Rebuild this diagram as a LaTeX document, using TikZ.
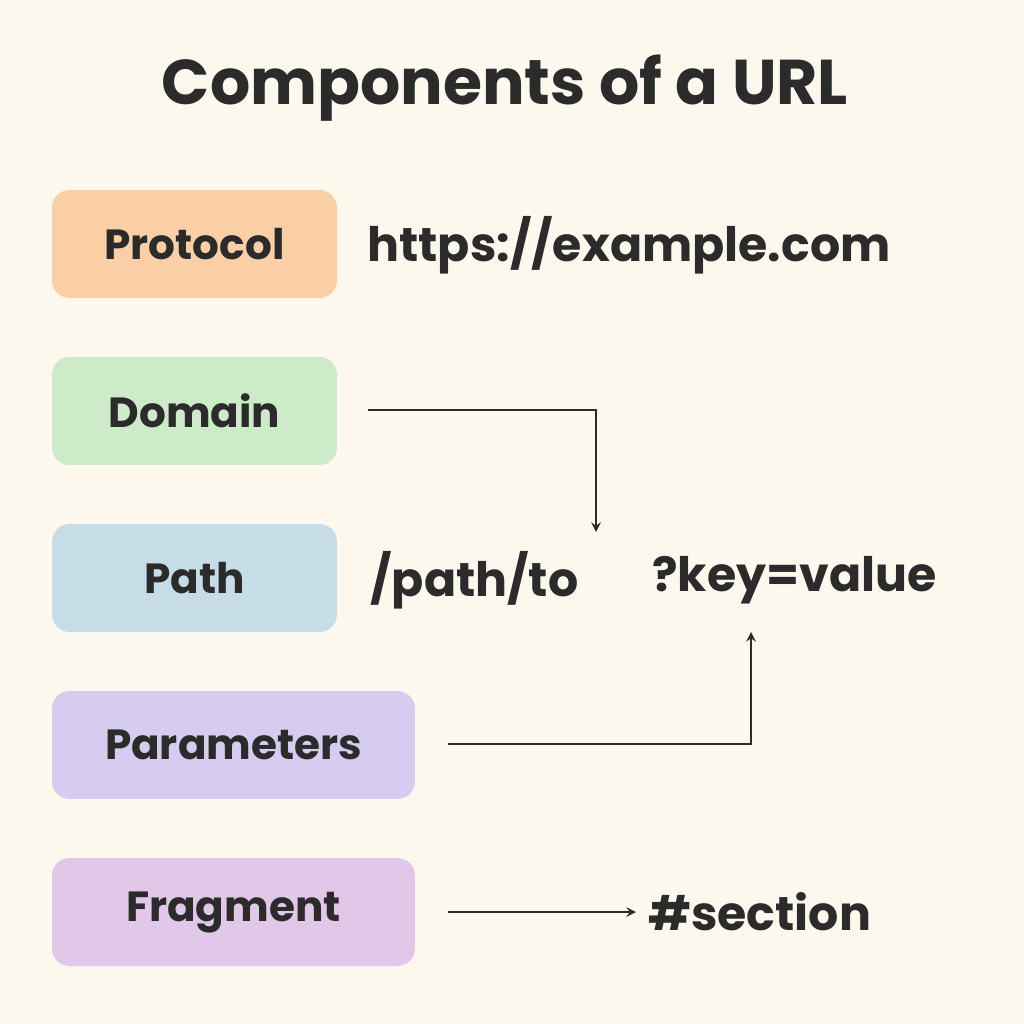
\documentclass[tikz,border=0pt]{standalone}
\usepackage{fontspec}
\setmainfont{Poppins}
\usetikzlibrary{positioning}
\definecolor{bgColor}{HTML}{FDF8EE}
\definecolor{protoColor}{HTML}{FBCFA6}
\definecolor{domainColor}{HTML}{CDEBC8}
\definecolor{pathColor}{HTML}{C6DDE8}
\definecolor{paramColor}{HTML}{D5CCEF}
\definecolor{fragColor}{HTML}{E1C8E9}
\definecolor{inkColor}{HTML}{2B2B2B}
\tikzstyle{partBox} = [rounded corners = .35cm, draw=none, minimum height = 2.16cm, text = inkColor, font=\fontsize{24}{28}\selectfont\bfseries]
\tikzstyle{urlText} = [text = inkColor, font=\fontsize{27}{32}\selectfont\bfseries, inner sep = 0]
\tikzstyle{arrowLine} = [draw=inkColor, line width = 1.4pt, -stealth]

\begin{document}
\begin{tikzpicture}[x = .02cm, y = -.02cm]
  \fill [bgColor] (0,0) rectangle (1024,1024);
  \node [text = inkColor, font=\fontsize{36}{40}\selectfont\bfseries] (title) at (505,88) {Components of a URL};

  % labels
  \node [partBox, fill=protoColor, minimum width = 5.7cm] (protocol) at (194.5,244) {Protocol};
  \node [partBox, fill=domainColor, minimum width = 5.7cm] (domain) at (194.5,411) {Domain};
  \node [partBox, fill=pathColor, minimum width = 5.7cm] (path) at (194.5,578) {Path};
  \node [partBox, fill=paramColor, minimum width = 7.26cm] (params) at (233.5,745) {Parameters};
  \node [partBox, fill=fragColor, minimum width = 7.26cm] (fragment) at (233.5,912) {Fragment};

  % url pieces
  \node [urlText, anchor=west] (host) at (367,245) {https://example.com};
  \node [urlText, anchor=west] (route) at (370,580) {/path/to};
  \node [urlText, anchor=west] (query) at (652,580) {?key=value};
  \node [urlText, anchor=west] (anchorText) at (648,912) {\#section};

  % arrows
  \coordinate (domainOut) at (368,410);
  \coordinate (domainIn) at (596,532);
  \coordinate (paramsOut) at (448,744);
  \coordinate (paramsIn) at (751,632);
  \coordinate (fragOut) at (448,912);
  \coordinate (fragIn) at (636,912);
  \draw [arrowLine] (domainOut) -| (domainIn);
  \draw [arrowLine] (paramsOut) -| (paramsIn);
  \draw [arrowLine] (fragOut) -- (fragIn);
\end{tikzpicture}
\end{document}
